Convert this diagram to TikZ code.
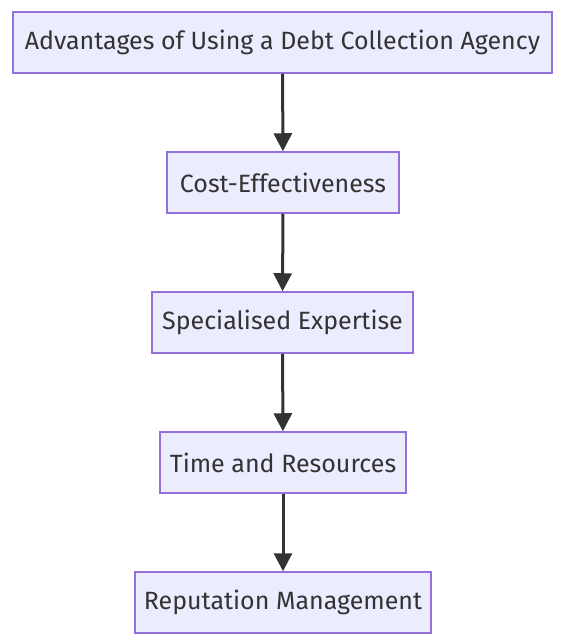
\documentclass[tikz,border=0pt]{standalone}
\usepackage{fontspec}
\setmainfont{Fira Sans}
\usetikzlibrary{arrows.meta}
\definecolor{boxfill}{HTML}{ECECFF}
\definecolor{boxline}{HTML}{9370DB}
\definecolor{ink}{HTML}{333333}
\tikzset{
  stepbox/.style={draw=boxline, fill=boxfill, line width=1.5pt, minimum height=61pt, inner sep=0pt,
    text=ink, font=\fontsize{25}{30}\selectfont},
  conn/.style={draw=ink, line width=3pt, -{Triangle[length=18pt,width=18pt]}}
}
\begin{document}
\begin{tikzpicture}[x=1pt,y=-1pt]
\useasboundingbox (0,0) rectangle (565,634);
\node[stepbox, minimum width=539pt] (a) at (282.5,42.5) {Advantages of Using a Debt Collection Agency};
\node[stepbox, minimum width=232pt] (b) at (283,182.5) {Cost-Effectiveness};
\node[stepbox, minimum width=261pt] (c) at (282.5,322.5) {Specialised Expertise};
\node[stepbox, minimum width=246pt] (d) at (283,462.5) {Time and Resources};
\node[stepbox, minimum width=296pt] (e) at (283,602.5) {Reputation Management};
\draw[conn] (a) -- (b);
\draw[conn] (b) -- (c);
\draw[conn] (c) -- (d);
\draw[conn] (d) -- (e);
\end{tikzpicture}
\end{document}
